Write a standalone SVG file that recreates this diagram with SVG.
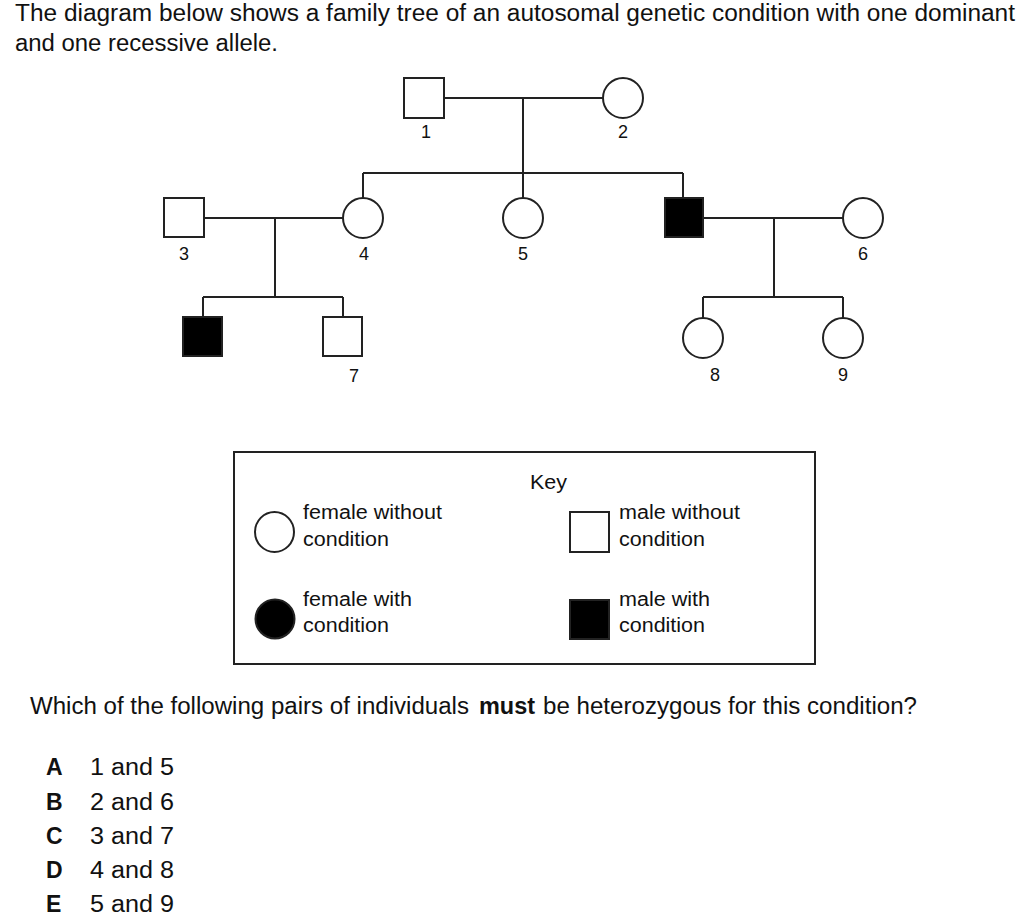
<svg xmlns="http://www.w3.org/2000/svg" width="1024" height="922" viewBox="0 0 1024 922">
<style>
text{font-family:"Liberation Sans",Arial,sans-serif;fill:#111}
.t{font-size:23px}
.lbl{font-size:18px;text-anchor:middle}
.k{font-size:20px}
.b{font-weight:bold}
.sh{fill:#fff;stroke:#222;stroke-width:2}
.af{fill:#000;stroke:#222;stroke-width:2}
.ln{fill:none;stroke:#222;stroke-width:2}
</style>
<rect width="1024" height="922" fill="#fff"/>
<g id="title">
<text class="t" x="15" y="20.5" textLength="1000" lengthAdjust="spacingAndGlyphs">The diagram below shows a family tree of an autosomal genetic condition with one dominant</text>
<text class="t" x="15" y="51" textLength="263" lengthAdjust="spacingAndGlyphs">and one recessive allele.</text>
</g>
<g id="connectors">
<path class="ln" d="M444 98H603M523 98V198M363 173H683M363 173V198M683 173V198"/>
<path class="ln" d="M204 218H343M275 218V297M203 297H343M203 297V317M343 297V317"/>
<path class="ln" d="M703 218H843M774 218V297M703 297H843M703 297V318M843 297V318"/>
</g>
<g id="n1"><rect class="sh" x="404" y="78" width="40" height="40"/><text class="lbl" x="426" y="138">1</text></g>
<g id="n2"><circle class="sh" cx="623" cy="98" r="20"/><text class="lbl" x="623" y="138">2</text></g>
<g id="n3"><rect class="sh" x="164" y="198" width="40" height="39"/><text class="lbl" x="184" y="260">3</text></g>
<g id="n4"><circle class="sh" cx="363" cy="218" r="20"/><text class="lbl" x="364" y="260">4</text></g>
<g id="n5"><circle class="sh" cx="523" cy="218" r="20"/><text class="lbl" x="523" y="260">5</text></g>
<g id="n_affected_male"><rect class="af" x="665" y="198" width="38" height="39"/></g>
<g id="n6"><circle class="sh" cx="863" cy="218" r="20"/><text class="lbl" x="863" y="260">6</text></g>
<g id="n_affected_son"><rect class="af" x="183" y="317" width="39" height="39"/></g>
<g id="n7"><rect class="sh" x="323" y="317" width="39" height="39"/><text class="lbl" x="354" y="382">7</text></g>
<g id="n8"><circle class="sh" cx="703" cy="338" r="20"/><text class="lbl" x="715" y="381">8</text></g>
<g id="n9"><circle class="sh" cx="843" cy="338" r="20"/><text class="lbl" x="843" y="381">9</text></g>
<g id="key">
<rect x="234" y="452" width="581" height="212" fill="none" stroke="#222" stroke-width="2"/>
<text class="k" x="530" y="489" textLength="37" lengthAdjust="spacingAndGlyphs">Key</text>
<ellipse class="sh" cx="274.5" cy="532" rx="19.5" ry="20"/>
<text class="k" x="303" y="519" textLength="139" lengthAdjust="spacingAndGlyphs">female without</text>
<text class="k" x="303" y="546" textLength="86" lengthAdjust="spacingAndGlyphs">condition</text>
<ellipse class="af" cx="275" cy="619" rx="19.5" ry="19.5"/>
<text class="k" x="303" y="606" textLength="109" lengthAdjust="spacingAndGlyphs">female with</text>
<text class="k" x="303" y="632" textLength="86" lengthAdjust="spacingAndGlyphs">condition</text>
<rect class="sh" x="570" y="512" width="39" height="40"/>
<text class="k" x="619" y="519" textLength="121" lengthAdjust="spacingAndGlyphs">male without</text>
<text class="k" x="619" y="546" textLength="86" lengthAdjust="spacingAndGlyphs">condition</text>
<rect class="af" x="570" y="600" width="39" height="39"/>
<text class="k" x="619" y="606" textLength="91" lengthAdjust="spacingAndGlyphs">male with</text>
<text class="k" x="619" y="632" textLength="86" lengthAdjust="spacingAndGlyphs">condition</text>
</g>
<g id="question">
<text class="t" x="30" y="714" textLength="439" lengthAdjust="spacingAndGlyphs">Which of the following pairs of individuals</text>
<text class="t b" x="479" y="714" textLength="56" lengthAdjust="spacingAndGlyphs">must</text>
<text class="t" x="543" y="714" textLength="374" lengthAdjust="spacingAndGlyphs">be heterozygous for this condition?</text>
</g>
<g id="options">
<text class="t b" x="46" y="775">A</text><text class="t" x="90" y="775" textLength="84" lengthAdjust="spacingAndGlyphs">1 and 5</text>
<text class="t b" x="46" y="810">B</text><text class="t" x="90" y="810" textLength="84" lengthAdjust="spacingAndGlyphs">2 and 6</text>
<text class="t b" x="46" y="844">C</text><text class="t" x="90" y="844" textLength="84" lengthAdjust="spacingAndGlyphs">3 and 7</text>
<text class="t b" x="46" y="878">D</text><text class="t" x="90" y="878" textLength="84" lengthAdjust="spacingAndGlyphs">4 and 8</text>
<text class="t b" x="46" y="912">E</text><text class="t" x="90" y="912" textLength="84" lengthAdjust="spacingAndGlyphs">5 and 9</text>
</g>
</svg>
